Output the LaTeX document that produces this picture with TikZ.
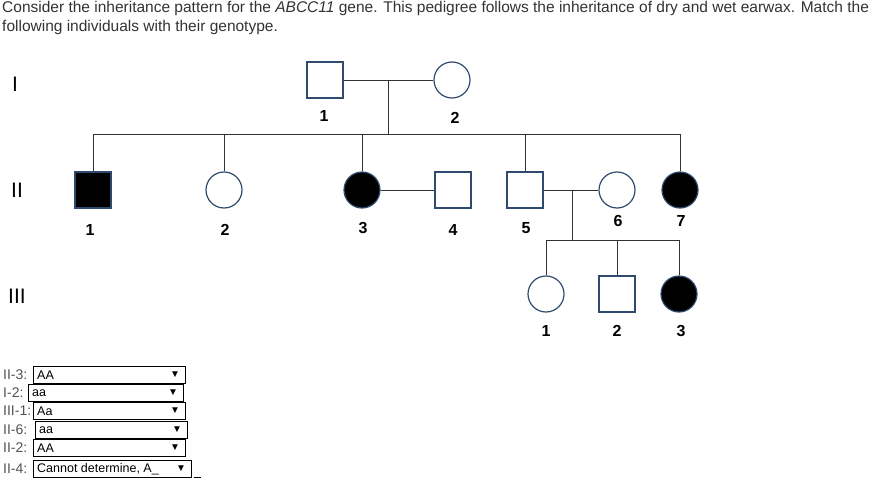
\documentclass[tikz,border=0pt]{standalone}
\usepackage{fontspec}
\setmainfont{Liberation Sans}
\definecolor{ped}{HTML}{2F4A6F}
\definecolor{txt}{HTML}{333333}
\begin{document}
\begin{tikzpicture}[x=1pt,y=-1pt,
  male/.style={draw=ped,line width=1.2pt,minimum size=36pt,inner sep=0pt},
  fem/.style={draw=ped,line width=1.2pt,circle,minimum size=36pt,inner sep=0pt},
  aff/.style={fill=black},
  num/.style={font=\fontsize{16}{16}\selectfont\bfseries},
  gen/.style={font=\fontsize{21}{21}\selectfont,text=black},
  ln/.style={draw=black!80,line width=0.8pt},
  lab/.style={font=\fontsize{14}{14}\selectfont,text=txt!85,anchor=west,inner sep=0pt},
  opt/.style={font=\fontsize{12.5}{12.5}\selectfont,anchor=west,inner sep=0pt}]
\useasboundingbox (0,0) rectangle (890,489);
\node[anchor=north west,inner sep=0pt,text=txt,align=left,font=\fontsize{15.5}{19}\selectfont] (hdr) at (2,1.5)
 {Consider the inheritance pattern for the \textit{ABCC11} gene. This pedigree follows the inheritance of dry and wet earwax. Match the\\following individuals with their genotype.};
\node[gen] (g1) at (15,84) {I};
\node[gen] (g2) at (17,190) {II};
\node[gen] (g3) at (17,296) {III};
% gen I
\node[male] (i1) at (325,80) {};
\node[fem] (i2) at (452,80) {};
\coordinate (m1) at (388,80);
\coordinate (s1) at (388,134);
% gen II
\node[male,aff] (ii1) at (93,190) {};
\node[fem] (ii2) at (224,190) {};
\node[fem,aff] (ii3) at (362,190) {};
\node[male] (ii4) at (453,190) {};
\node[male] (ii5) at (525,190) {};
\node[fem] (ii6) at (617,190) {};
\node[fem,aff] (ii7) at (680,190) {};
\coordinate (m2) at (572,190);
\coordinate (s2) at (572,240);
% gen III
\node[fem] (iii1) at (546,294) {};
\node[male] (iii2) at (617,294) {};
\node[fem,aff] (iii3) at (679,294) {};
% lines
\draw[ln] (i1) -- (i2);
\draw[ln] (m1) -- (s1);
\draw[ln] (ii1.north |- s1) -- (ii7.north |- s1);
\foreach \n in {ii1,ii2,ii3,ii5,ii7} \draw[ln] (\n.north |- s1) -- (\n.north);
\draw[ln] (ii3) -- (ii4);
\draw[ln] (ii5) -- (ii6);
\draw[ln] (m2) -- (s2);
\draw[ln] (iii1.north |- s2) -- (iii3.north |- s2);
\foreach \n in {iii1,iii2,iii3} \draw[ln] (\n.north |- s2) -- (\n.north);
% numbers
\node[num] (n11) at (324,116) {1};
\node[num] (n12) at (455,118) {2};
\node[num] (n21) at (90,230) {1};
\node[num] (n22) at (225,230) {2};
\node[num] (n23) at (363,228) {3};
\node[num] (n24) at (453,230) {4};
\node[num] (n25) at (526,228) {5};
\node[num] (n26) at (618,221) {6};
\node[num] (n27) at (681,221) {7};
\node[num] (n31) at (546,331) {1};
\node[num] (n32) at (617,331) {2};
\node[num] (n33) at (681,331) {3};
% dropdowns
\foreach \nm/\y/\xa/\xb/\l/\t in {a/375/33/185/II-3:/AA, b/393/28/183/I-2:/aa, c/411/33/185/III-1:/Aa, d/430/35/187/II-6:/aa, e/448/33/185/II-2:/AA, f/469/33/191/II-4:/{Cannot determine, A\_}}{
  \node[lab] (l\nm) at (3,\y) {\l};
  \draw[line width=1pt] (\xa,\y-8.5) rectangle (\xb,\y+8.5);
  \node[opt] (o\nm) at (\xa+4,\y+0.5) {\t};
  \node[font=\fontsize{10}{10}\selectfont,inner sep=0pt] (t\nm) at (\xb-10,\y) {▼};
}
\draw[line width=0.8pt] (194,477) -- (201,477);
\end{tikzpicture}
\end{document}
